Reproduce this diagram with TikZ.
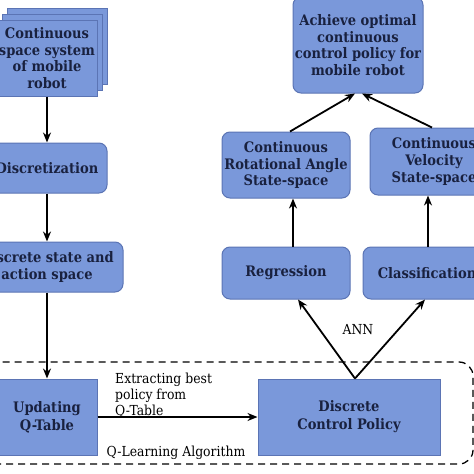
\documentclass[tikz,border=0pt]{standalone}
\usepackage{fontspec}
\setmainfont{DejaVu Serif Condensed}
\usetikzlibrary{shadows,arrows.meta}
\definecolor{boxfill}{HTML}{7A98DA}
\definecolor{boxdraw}{HTML}{5B74B4}
\definecolor{boxtext}{HTML}{19213F}
\tikzset{
  bx/.style={draw=boxdraw, line width=1pt, fill=boxfill, text=boxtext, align=center,
    font=\fontsize{14.5}{16.8}\selectfont\bfseries, inner sep=0pt},
  rbx/.style={bx, rounded corners=8pt},
  arr/.style={-{Stealth[length=10pt,width=8pt]}, line width=1.8pt},
  lbl/.style={font=\fontsize{13.8}{16}\selectfont, text=black, inner sep=0pt}
}
\begin{document}
\begin{tikzpicture}[x=1pt,y=-1pt]
\useasboundingbox (0,0) rectangle (474,474);
% dashed region
\draw[dashed, line width=1.3pt, dash pattern=on 7pt off 5pt, rounded corners=14pt] (-20,362) rectangle (473,464);
\node[lbl] (ql) at (176,453) {Q-Learning Algorithm};
% left column
\node[bx, minimum width=100, minimum height=76,
  double copy shadow={shadow xshift=5pt, shadow yshift=6pt, fill=boxfill, draw=boxdraw}] (cs) at (47,58) {Continuous\\space system\\of mobile\\robot};
\node[rbx, minimum width=120, minimum height=50] (disc) at (47,168) {Discretization};
\node[rbx, minimum width=152, minimum height=50] (dsa) at (47,267) {Discrete state and\\action space};
\node[bx, minimum width=100, minimum height=76, font=\fontsize{14.5}{18}\selectfont\bfseries] (upd) at (47,417) {Updating\\Q-Table};
\node[bx, minimum width=182, minimum height=76, font=\fontsize{14.5}{18}\selectfont\bfseries] (dcp) at (349,417) {Discrete\\Control Policy};
% right column
\node[rbx, minimum width=128, minimum height=52] (reg) at (286,273) {Regression};
\node[rbx, minimum width=128, minimum height=52] (cls) at (427,273) {Classification};
\node[rbx, minimum width=128, minimum height=66] (rot) at (286,165) {Continuous\\Rotational Angle\\State-space};
\node[rbx, minimum width=128, minimum height=67] (vel) at (434,161.5) {Continuous\\Velocity\\State-space};
\node[rbx, minimum width=130, minimum height=96] (top) at (358,45) {Achieve optimal\\continuous\\control policy for\\mobile robot};
% arrows
\draw[arr] (cs.south) -- (disc.north);
\draw[arr] (disc.south) -- (dsa.north);
\draw[arr] (dsa.south) -- (upd.north);
\draw[arr] (upd.east) -- (dcp.west);
\node[lbl, align=left, anchor=north west] (ext) at (115,373) {Extracting best\\policy from\\Q-Table};
\draw[arr] ([xshift=6pt]dcp.north) -- ([xshift=12pt]reg.south);
\draw[arr] ([xshift=6pt]dcp.north) -- ([xshift=-2pt]cls.south);
\node[lbl] (ann) at (358,330) {ANN};
\draw[arr] ([xshift=7pt]reg.north) -- ([xshift=7pt]rot.south);
\draw[arr] ([xshift=1pt]cls.north) -- ([xshift=-6pt]vel.south);
\draw[arr] ([xshift=4pt]rot.north) -- ([xshift=-3pt]top.south);
\draw[arr] ([xshift=-2pt]vel.north) -- ([xshift=4pt]top.south);
\end{tikzpicture}
\end{document}
